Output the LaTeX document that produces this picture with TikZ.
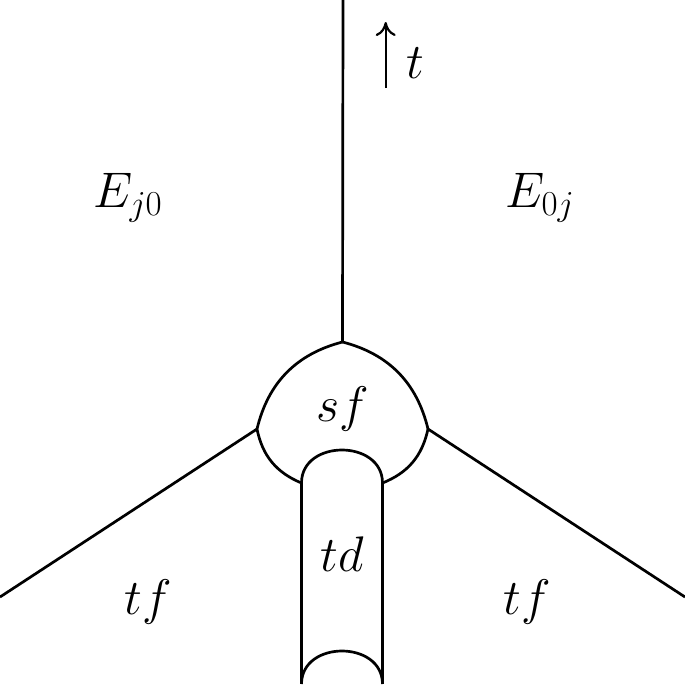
\documentclass[tikz,border=0pt]{standalone}
\usepackage{fix-cm}
\usetikzlibrary{arrows.meta}
\begin{document}
\begin{tikzpicture}[x=0.5pt,y=-0.5pt,line width=1.35pt,
  lbl/.style={font=\fontsize{25}{30}\selectfont,inner sep=0pt}]
\useasboundingbox (0,0) rectangle (685,687);
% key points
\coordinate (top) at (343,0);
\coordinate (T) at (342.5,342);
\coordinate (L) at (257,429);
\coordinate (R) at (428,429);
\coordinate (BL) at (301.5,483);
\coordinate (BR) at (382.5,483);
\coordinate (BBL) at (301.5,684);
\coordinate (BBR) at (382.5,684);
\coordinate (EL) at (0,597);
\coordinate (ER) at (685,597);
\coordinate (arrlo) at (385.7,88);
\coordinate (arrhi) at (385.7,22);
% lines
\draw (top) -- (T);
\draw (L) -- (EL);
\draw (R) -- (ER);
% sf region
\draw (L) to[bend left=31] (T);
\draw (T) to[bend left=31] (R);
\draw (L) to[bend right=28] (BL);
\draw (R) to[bend left=28] (BR);
% tube
\draw (BL) .. controls +(0,-44) and +(0,-44) .. (BR);
\draw (BL) -- (BBL);
\draw (BR) -- (BBR);
\draw (BBL) .. controls +(0,-44) and +(0,-44) .. (BBR);
% time arrow
\draw[line width=1.1pt,-{Computer Modern Rightarrow[length=7pt,width=10pt]}] (arrlo) -- (arrhi);
% labels
\node[lbl] (ej0) at (128,198) {$E_{j0}$};
\node[lbl] (e0j) at (540,198) {$E_{0j}$};
\node[lbl] (sf) at (343,409) {$sf$};
\node[lbl] (td) at (342,554) {$td$};
\node[lbl] (tfl) at (148,602) {$tf$};
\node[lbl] (tfr) at (527,602) {$tf$};
\node[lbl,anchor=base] (tt) at (415,78) {$t$};
\end{tikzpicture}
\end{document}
